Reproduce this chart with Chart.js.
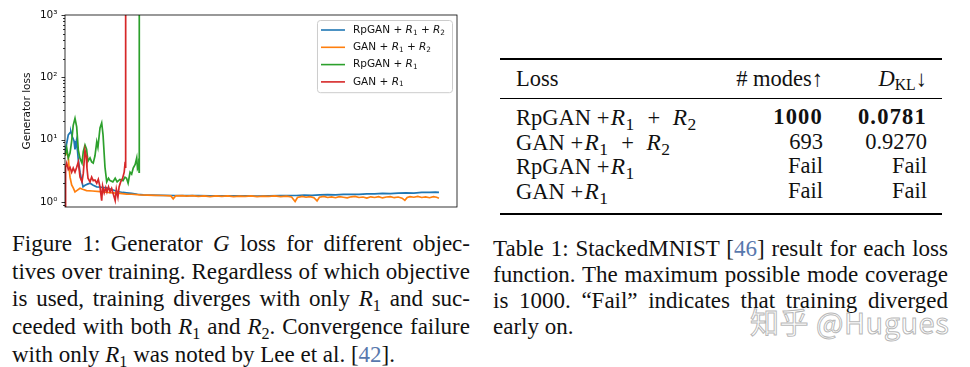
<!DOCTYPE html>
<html>
<head>
<meta charset="utf-8">
<script src="https://cdn.jsdelivr.net/npm/chart.js@4.4.1/dist/chart.umd.min.js"></script>
<style>
  body { margin: 0; width: 970px; height: 367px; background: #fff; overflow: hidden; position: relative; color: #111; font-family: "Liberation Serif", serif; }
  #lossChart { position: absolute; left: 0; top: 0; }
  .rule { position: absolute; left: 0; width: 442px; background: #000; }
  #tbl { position: absolute; left: 500px; top: 0; width: 442px; height: 220px; font-size: 22.5px; }
  .trow { position: absolute; left: 0; width: 442px; height: 24.5px; line-height: 24.5px; white-space: nowrap; }
  .trow > span { position: absolute; top: 0; }
  .c1 { left: 16px; }
  .c2 { right: 119px; }
  .c3 { right: 15px; }
  sub { font-size: 0.7em; vertical-align: -0.28em; line-height: 0; }
  .trow .mR { font-style: italic; font-size: 1.04em; }
  .trow .mR + sub { font-size: 0.78em; margin-left: 0.5px; margin-right: 0.12em; }
  .bop { margin: 0 0.55em 0 0.5em; }
  .uop { margin-left: 0.26em; margin-right: 0.05em; }
  .bold { font-weight: bold; letter-spacing: 1.2px; }
  .cap { position: absolute; font-size: 23px; }
  .cap .ln { display: block; white-space: nowrap; }
  .ref { color: #5878ad; }
  #mark { position: absolute; left: 750px; top: 300px; font-family: "Noto Sans CJK SC", "Noto Sans", sans-serif; font-size: 29px; color: rgba(255,255,255,0.35); -webkit-text-stroke: 1px rgba(160,160,160,0.75); white-space: nowrap; letter-spacing: 0.5px; }
</style>
</head>
<body>
<canvas id="lossChart" width="470" height="215"></canvas>

<div id="tbl">
  <div class="rule" style="top:58px;height:1.6px"></div>
  <div class="trow" style="top:67px"><span class="c1">Loss</span><span class="c2"># modes↑</span><span class="c3"><i>D</i><sub>KL</sub>↓</span></div>
  <div class="rule" style="top:97.5px;height:1px"></div>
  <div class="trow" style="top:105.3px"><span class="c1">RpGAN<span class="uop">+</span><span class="mR">R</span><sub>1</sub><span class="bop">+</span><span class="mR">R</span><sub>2</sub></span><span class="c2 bold">1000</span><span class="c3 bold">0.0781</span></div>
  <div class="trow" style="top:129.8px"><span class="c1">GAN<span class="uop">+</span><span class="mR">R</span><sub>1</sub><span class="bop">+</span><span class="mR">R</span><sub>2</sub></span><span class="c2">693</span><span class="c3">0.9270</span></div>
  <div class="trow" style="top:154.3px"><span class="c1">RpGAN<span class="uop">+</span><span class="mR">R</span><sub>1</sub></span><span class="c2">Fail</span><span class="c3">Fail</span></div>
  <div class="trow" style="top:178.8px"><span class="c1">GAN<span class="uop">+</span><span class="mR">R</span><sub>1</sub></span><span class="c2">Fail</span><span class="c3">Fail</span></div>
  <div class="rule" style="top:213px;height:1.6px"></div>
</div>

<div class="cap" id="capL" style="left:12px;top:230px;width:458px;line-height:27.7px">
  <div class="ln"><span>Figure 1: Generator <i>G</i> loss for different objec-</span></div>
  <div class="ln"><span>tives over training. Regardless of which objective</span></div>
  <div class="ln"><span>is used, training diverges with only <i>R</i><sub>1</sub> and suc-</span></div>
  <div class="ln"><span>ceeded with both <i>R</i><sub>1</sub> and <i>R</i><sub>2</sub>. Convergence failure</span></div>
  <div class="ln last"><span>with only <i>R</i><sub>1</sub> was noted by Lee et al. [<span class="ref">42</span>].</span></div>
</div>

<div class="cap" id="capR" style="left:493px;top:236px;width:455px;line-height:26px">
  <div class="ln"><span>Table 1: StackedMNIST [<span class="ref">46</span>] result for each loss</span></div>
  <div class="ln"><span>function. The maximum possible mode coverage</span></div>
  <div class="ln"><span>is 1000. “Fail” indicates that training diverged</span></div>
  <div class="ln last"><span>early on.</span></div>
</div>

<div id="mark">知乎 @Hugues</div>

<script>
// series names and colours (matplotlib tab10)
const seriesLabels = ['RpGAN + R_1 + R_2', 'GAN + R_1 + R_2', 'RpGAN + R_1', 'GAN + R_1'];
const seriesColors = ['#1f77b4', '#ff7f0e', '#2ca02c', '#d62728'];
const decadeLabels = ['10⁰', '10¹', '10²', '10³'];
const decadeValues = [1, 10, 100, 1000];

// RpGAN + R1 + R2
const rpganR1R2Steps = [0, 0.4, 0.84, 1.3, 1.5, 1.9, 2.3, 2.55, 2.9, 3.2, 3.4, 3.83, 4.2, 4.6, 5.1, 5.9, 6.4, 7.2, 8.1, 9.2, 10.6, 11.8, 13.3, 14.8, 15.7, 17, 18.5, 20, 22, 25, 28, 31, 34, 37, 40, 43, 46, 49, 52, 55, 57, 59, 61, 63, 65, 67, 69, 71, 73, 75, 77, 79, 81, 83, 85, 87, 89, 91, 93, 94.5, 95.4];
const rpganR1R2Loss = [6.4, 8.5, 11.9, 13.0, 13.5, 11.0, 9.5, 7.0, 9.5, 6.5, 4.7, 3.0, 2.3, 1.75, 1.85, 1.95, 2.0, 1.85, 1.75, 1.72, 1.68, 1.6, 1.47, 1.42, 1.4, 1.37, 1.33, 1.3, 1.29, 1.28, 1.27, 1.26, 1.26, 1.25, 1.25, 1.25, 1.25, 1.24, 1.25, 1.26, 1.27, 1.27, 1.29, 1.28, 1.30, 1.31, 1.30, 1.32, 1.33, 1.32, 1.35, 1.35, 1.37, 1.36, 1.39, 1.40, 1.39, 1.42, 1.43, 1.44, 1.43];

// GAN + R1 + R2
const ganR1R2Steps = [0, 0.4, 0.84, 1.05, 1.28, 1.7, 2.1, 2.55, 3.0, 3.83, 4.5, 5.5, 7, 8.9, 10.5, 12.2, 14, 15.7, 17, 19.1, 21, 23, 25, 27, 27.6, 28.2, 30, 31, 32.5, 34, 35.5, 37, 38.5, 40, 41.5, 43, 44.5, 46, 47.5, 49, 50.5, 52, 53.5, 55, 56.5, 57.8, 58.7, 59.3, 60.5, 61.5, 62.5, 63.5, 64.3, 64.9, 66, 67, 68, 69, 70, 71, 72, 73, 74, 75, 76, 77, 78, 79, 80, 81, 82, 83, 84, 85, 86, 86.7, 87.3, 88, 89, 90, 91, 92, 93, 94, 94.8, 95.4];
const ganR1R2Loss = [6.4, 6.0, 5.3, 3.5, 2.5, 1.87, 1.68, 1.45, 1.52, 1.66, 1.6, 1.52, 1.5, 1.46, 1.43, 1.4, 1.37, 1.34, 1.33, 1.3, 1.29, 1.28, 1.27, 1.25, 1.12, 1.25, 1.26, 1.24, 1.26, 1.23, 1.25, 1.22, 1.25, 1.23, 1.25, 1.22, 1.24, 1.23, 1.25, 1.22, 1.24, 1.23, 1.25, 1.22, 1.24, 1.2, 1.02, 1.18, 1.23, 1.19, 1.22, 1.17, 1.04, 1.19, 1.23, 1.18, 1.21, 1.17, 1.22, 1.19, 1.16, 1.21, 1.23, 1.18, 1.2, 1.15, 1.21, 1.18, 1.22, 1.16, 1.2, 1.22, 1.17, 1.2, 1.15, 1.06, 1.18, 1.22, 1.19, 1.23, 1.18, 1.21, 1.17, 1.22, 1.19, 1.15];

// RpGAN + R1 (diverges)
const rpganR1Steps = [0, 0.43, 0.84, 1.28, 1.7, 2.1, 2.55, 2.98, 3.4, 3.83, 4.34, 4.67, 5.1, 5.5, 5.87, 6.38, 6.8, 7.2, 7.65, 8.1, 8.4, 8.93, 9.36, 9.7, 10.2, 10.64, 11.1, 11.5, 12.2, 12.8, 13.3, 14.0, 14.8, 15.3, 15.7, 16.1, 16.6, 17.0, 17.4, 17.9, 18.3, 18.5, 18.7, 18.85, 18.9, 18.95];
const rpganR1Loss = [5.5, 7.4, 5.1, 6.1, 9.5, 17, 22, 16, 6.8, 5.0, 4.2, 6.5, 8.2, 7.0, 4.5, 5.1, 4.4, 4.2, 5.5, 9.2, 7.5, 15.4, 18.5, 12, 3.6, 2.1, 2.4, 2.2, 2.1, 2.4, 2.1, 2.3, 2.2, 2.5, 2.4, 2.0, 3.0, 2.8, 3.5, 4.0, 5.1, 3.4, 3.6, 5.0, 3.0, 2000];

// GAN + R1 (diverges)
const ganR1Steps = [0, 0.15, 0.43, 0.84, 1.28, 1.7, 2.1, 2.55, 2.98, 3.4, 3.83, 4.34, 4.67, 5.1, 5.4, 5.6, 5.87, 6.38, 6.8, 7.2, 7.65, 8.1, 8.5, 8.93, 9.36, 9.6, 10.0, 10.4, 10.7, 11.1, 11.5, 11.9, 12.3, 12.8, 13.1, 13.5, 13.8, 14.2, 14.7, 15.1, 15.35, 15.45, 15.5];
const ganR1Loss = [0.5, 3.6, 4.2, 3.3, 3.6, 3.0, 3.5, 3.0, 3.6, 4.4, 2.5, 2.1, 2.9, 6.8, 5.5, 3.5, 2.4, 2.1, 2.5, 2.2, 2.25, 2.0, 2.3, 1.74, 1.05, 1.8, 1.4, 1.7, 1.45, 1.75, 1.45, 1.65, 1.35, 1.05, 1.6, 1.2, 1.74, 2.1, 2.4, 3.0, 4.4, 3.5, 2000];

function toPoints(steps, values) {
    return steps.map(function (s, i) { return { x: s, y: values[i] } })
}

const allSteps = [rpganR1R2Steps, ganR1R2Steps, rpganR1Steps, ganR1Steps];
const allLoss = [rpganR1R2Loss, ganR1R2Loss, rpganR1Loss, ganR1Loss];

// draws text like "GAN + R_1" with italic R and subscript digit
function richText(ctx, text, x, y, size, draw) {
    var parts = text.split(/(R_\d)/).filter(Boolean);
    parts.forEach(function (p) {
        if (/^R_\d$/.test(p)) {
            ctx.font = 'italic ' + size + 'px "DejaVu Sans"';
            if (draw) ctx.fillText('R', x, y);
            x += ctx.measureText('R').width;
            ctx.font = (size * 0.7) + 'px "DejaVu Sans"';
            if (draw) ctx.fillText(p[2], x, y + size * 0.25);
            x += ctx.measureText(p[2]).width;
        } else {
            ctx.font = size + 'px "DejaVu Sans"';
            if (draw) ctx.fillText(p, x, y);
            x += ctx.measureText(p).width;
        }
    });
    return x;
}

const boxLegend = {
    id: 'boxLegend',
    afterDatasetsDraw(chart) {
        var ctx = chart.ctx, a = chart.chartArea;
        var size = 10.5, rowH = 17.3;
        var sets = chart.data.datasets;
        ctx.save();
        ctx.textBaseline = 'middle';
        var maxW = 0;
        sets.forEach(function (d) { maxW = Math.max(maxW, richText(ctx, d.label, 0, 0, size, false)); });
        var w = 36 + maxW + 7, h = rowH * sets.length + 3;
        var left = a.right - 5 - w, top = a.top + 5;
        ctx.beginPath();
        ctx.roundRect(left + 0.5, top + 0.5, w, h, 3);
        ctx.fillStyle = 'rgba(255,255,255,0.8)';
        ctx.fill();
        ctx.strokeStyle = '#cccccc';
        ctx.lineWidth = 1;
        ctx.stroke();
        sets.forEach(function (d, i) {
            var cy = top + 10 + i * rowH;
            ctx.strokeStyle = d.borderColor;
            ctx.lineWidth = 1.6;
            ctx.beginPath(); ctx.moveTo(left + 4, cy); ctx.lineTo(left + 28, cy); ctx.stroke();
            ctx.fillStyle = '#111';
            richText(ctx, d.label, left + 36, cy, size, true);
        });
        ctx.restore();
    }
};

const frameTicks = {
    id: 'frameTicks',
    afterDraw(chart) {
        var ctx = chart.ctx, a = chart.chartArea, y = chart.scales.y;
        ctx.save();
        ctx.strokeStyle = '#000';
        ctx.lineWidth = 0.8;
        ctx.strokeRect(a.left, a.top, a.right - a.left, a.bottom - a.top);
        for (var k = -1; k <= 3; k++) {
            for (var m = 1; m <= 9; m++) {
                var v = m * Math.pow(10, k);
                if (v < y.min || v > y.max) continue;
                var py = Math.round(y.getPixelForValue(v)) + 0.5;
                var len = m === 1 ? 3.5 : 2;
                ctx.beginPath(); ctx.moveTo(a.left - len, py); ctx.lineTo(a.left, py); ctx.stroke();
            }
        }
        ctx.restore();
    }
};

var canvas = document.getElementById('lossChart');
var lossChart = new Chart(canvas, {
    type: 'line',
    data: {
        datasets: seriesLabels.map(function (name, i) {
            return {
                label: name,
                data: toPoints(allSteps[i], allLoss[i]),
                borderColor: seriesColors[i],
                backgroundColor: seriesColors[i],
                borderWidth: 1.7,
                pointRadius: 0,
                tension: 0,
                clip: 0,
                order: 4 - i
            }
        })
    },
    options: {
        responsive: false,
        animation: false,
        devicePixelRatio: 1,
        layout: { padding: { left: 0, right: 13, top: 15, bottom: 8 } },
        plugins: { legend: { display: false }, tooltip: { enabled: false } },
        scales: {
            x: { type: 'linear', min: 0, max: 100, display: false },
            y: {
                type: 'logarithmic',
                min: 0.83,
                max: 1000,
                afterFit: function (scale) {
                    scale.width = 65
                    scale.paddingTop = 0
                    scale.paddingBottom = 0
                },
                afterBuildTicks: function (scale) {
                    scale.ticks = decadeValues.map(function (v) { return { value: v } })
                },
                grid: { display: false, drawTicks: false },
                border: { display: false },
                ticks: {
                    padding: 7.5,
                    color: '#111',
                    font: { family: '"DejaVu Sans"', size: 10.5 },
                    callback: function (v) {
                        var i = decadeValues.indexOf(v);
                        return i >= 0 ? decadeLabels[i] : '';
                    }
                },
                title: {
                    display: true,
                    text: 'Generator loss',
                    color: '#111',
                    font: { family: '"DejaVu Sans"', size: 10.5 },
                    padding: { top: 21, bottom: 0 }
                }
            }
        }
    },
    plugins: [boxLegend, frameTicks]
});

// justify each caption line to its box width
document.querySelectorAll('.cap .ln').forEach(function (ln) {
    if (ln.classList.contains('last')) return;
    var inner = ln.firstElementChild;
    var spaces = (inner.textContent.match(/ /g) || []).length;
    var gap = ln.clientWidth - inner.getBoundingClientRect().width;
    if (spaces > 0) ln.style.wordSpacing = (gap / spaces) + 'px';
});
</script>
</body>
</html>
